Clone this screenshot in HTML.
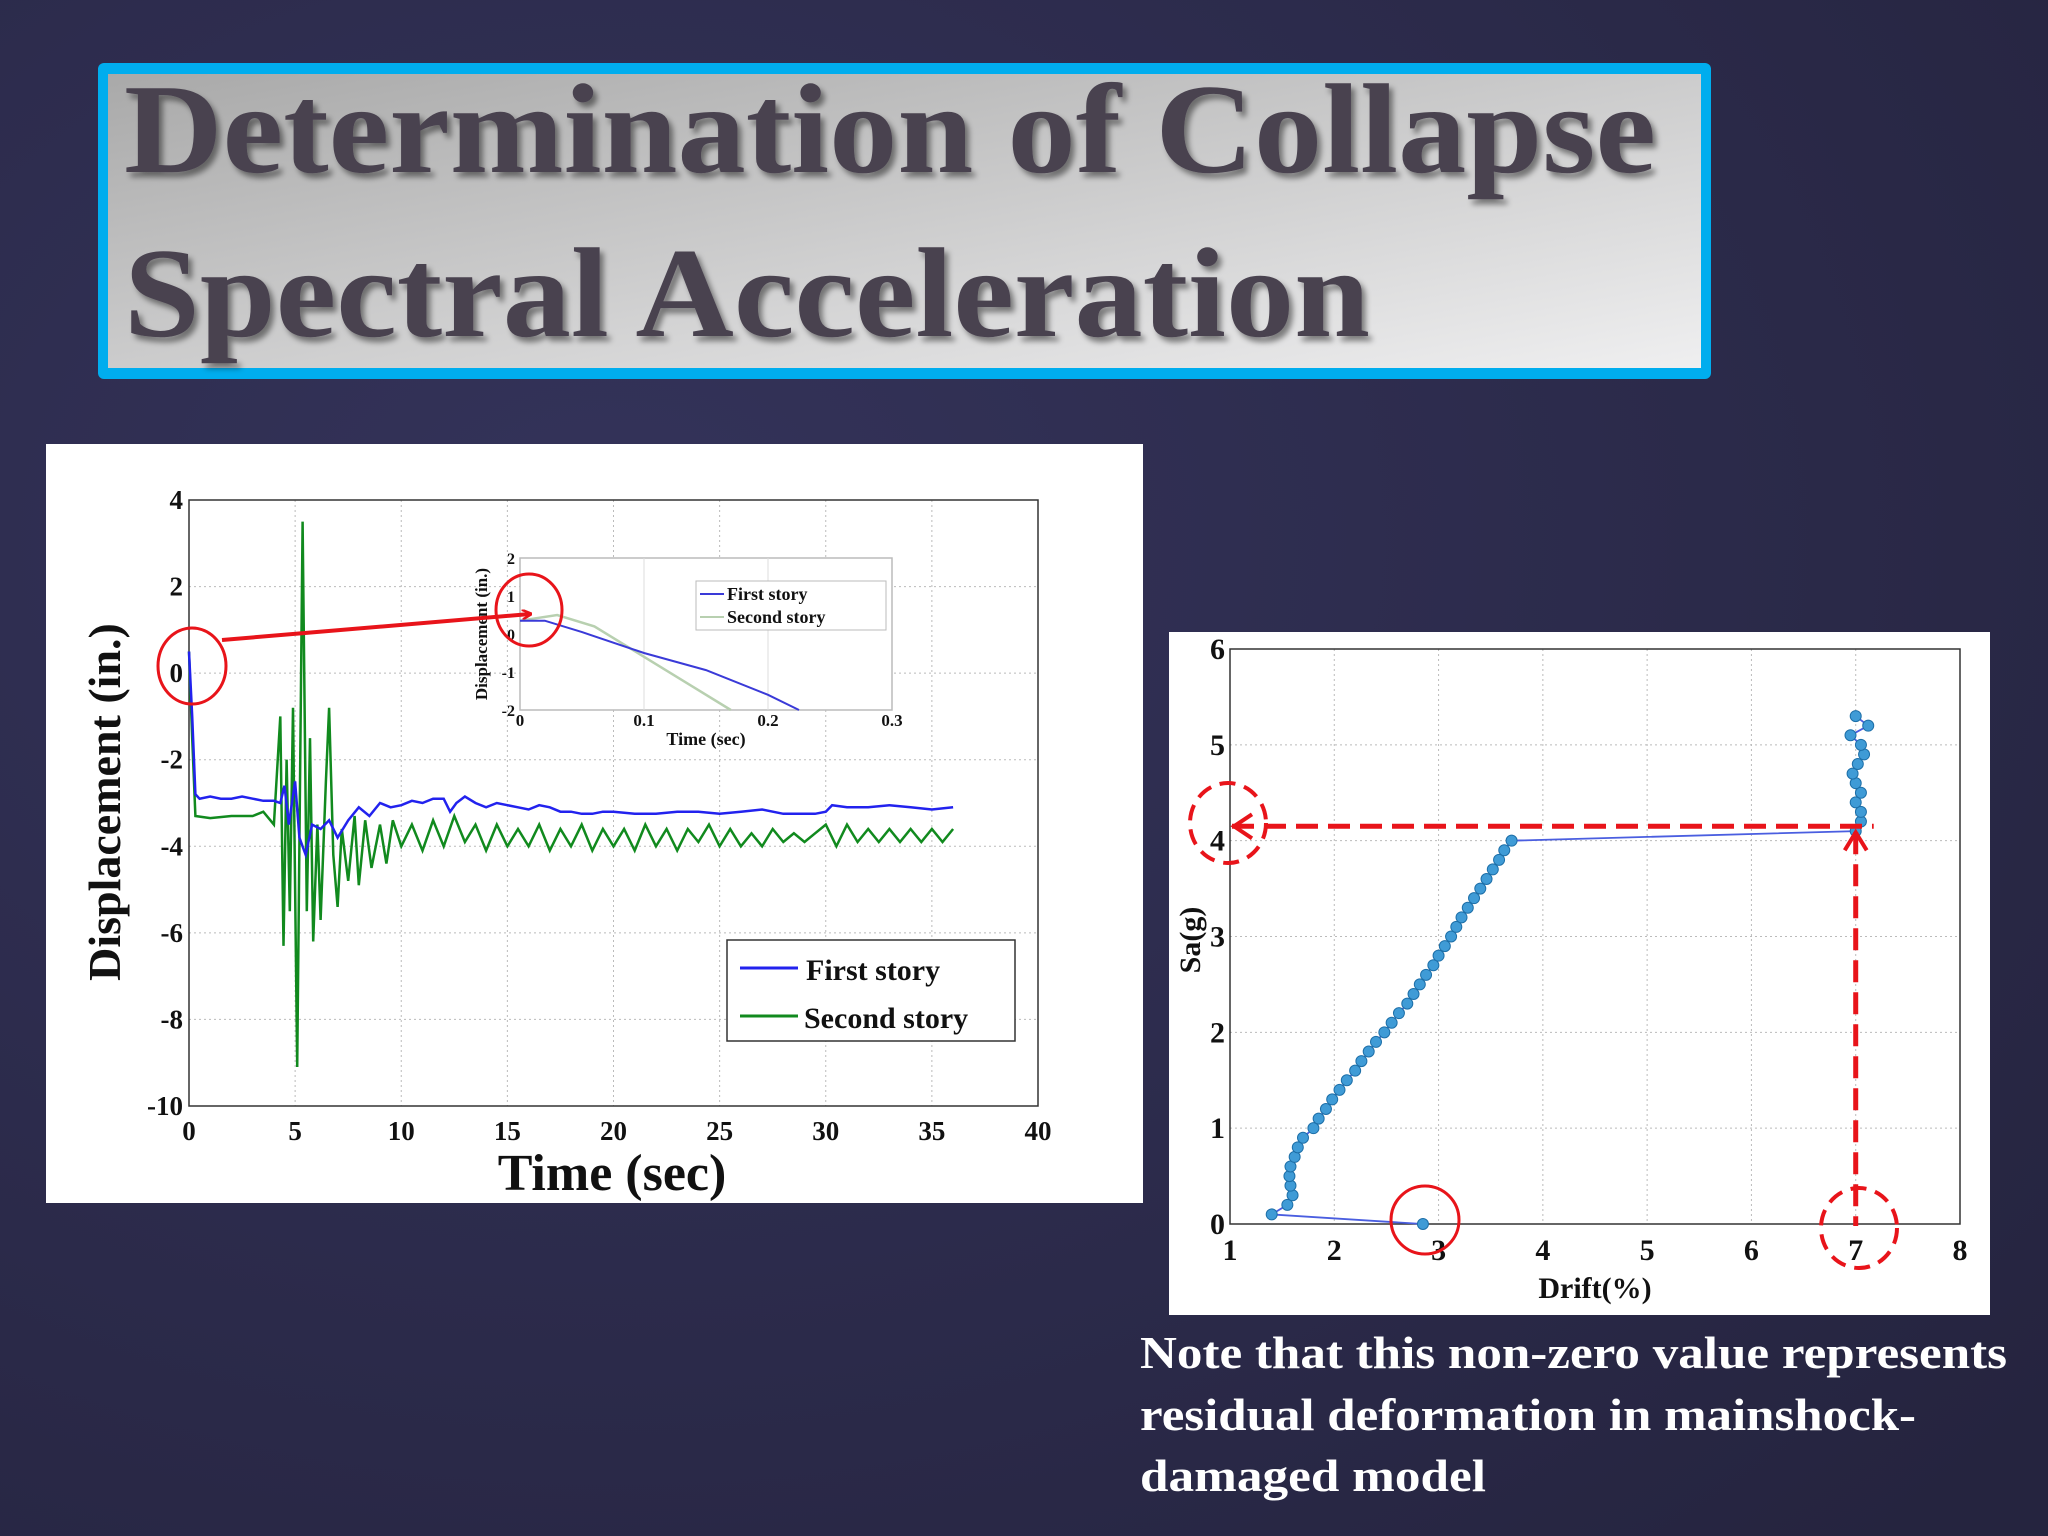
<!DOCTYPE html>
<html><head><meta charset="utf-8"><style>
html,body{margin:0;padding:0;background:#2c2b4c;}
svg{display:block;}
text{font-family:"Liberation Serif",serif;font-weight:bold;}
</style></head><body>
<svg id="root" width="2048" height="1536" viewBox="0 0 2048 1536">
<defs>
<radialGradient id="bg" cx="0.3" cy="0.35" r="0.9"><stop offset="0" stop-color="#34335a"/><stop offset="1" stop-color="#25243f"/></radialGradient>
<linearGradient id="tg" x1="0" y1="0" x2="1" y2="1"><stop offset="0" stop-color="#a9a9a9"/><stop offset="1" stop-color="#efeff0"/></linearGradient>
<filter id="sh" x="-5%" y="-5%" width="110%" height="120%"><feDropShadow dx="4" dy="5" stdDeviation="3" flood-color="#000" flood-opacity="0.45"/></filter>
<marker id="arr" markerWidth="10" markerHeight="10" refX="8" refY="5" orient="auto" markerUnits="userSpaceOnUse"><path d="M0,0 L10,5 L0,10" fill="none" stroke="#e8141a" stroke-width="2.5"/></marker>
</defs>
<rect width="2048" height="1536" fill="url(#bg)"/>
<g>
<rect x="98" y="63" width="1613" height="316" rx="6" fill="#00adee"/>
<rect x="108" y="74" width="1593" height="294" fill="url(#tg)"/>
<text x="124" y="172" font-size="128" fill="#4a4350" filter="url(#sh)" textLength="1532" lengthAdjust="spacingAndGlyphs">Determination of Collapse</text>
<text x="124" y="336" font-size="128" fill="#4a4350" filter="url(#sh)" textLength="1246" lengthAdjust="spacingAndGlyphs">Spectral Acceleration</text>
</g>
<g id="left"></g>
<g id="right"></g>
<g fill="#fff" font-size="46">
<text x="1140" y="1368" textLength="867" lengthAdjust="spacingAndGlyphs">Note that this non-zero value represents</text>
<text x="1140" y="1430" textLength="776" lengthAdjust="spacingAndGlyphs">residual deformation in mainshock-</text>
<text x="1140" y="1491" textLength="346" lengthAdjust="spacingAndGlyphs">damaged model</text>
</g>
</svg>
<script>
// ---- left chart data ----
const xTicksL=[0,5,10,15,20,25,30,35,40];
const yTicksL=[4,2,0,-2,-4,-6,-8,-10];
const timeA=[0,0.15,0.3,0.5,1,1.5,2,2.5,3,3.5,4,4.3,4.5,4.7,5,5.2,5.5,5.8,6.2,6.6,7,7.5,8,8.5,9,9.5,10,10.5,11,11.5,12,12.3,12.6,13,13.5,14,14.5,15,15.5,16,16.5,17,17.5,18,18.5,19,19.5,20,21,22,23,24,25,26,27,28,29,29.5,30,30.3,31,32,33,34,35,36];
const firstStory=[0.5,-1,-2.8,-2.9,-2.85,-2.9,-2.9,-2.85,-2.9,-2.95,-2.95,-3.0,-2.6,-3.5,-2.5,-3.8,-4.2,-3.5,-3.6,-3.4,-3.8,-3.4,-3.1,-3.3,-3.0,-3.1,-3.05,-2.95,-3.0,-2.9,-2.9,-3.2,-3.0,-2.85,-3.0,-3.1,-3.0,-3.05,-3.1,-3.15,-3.05,-3.1,-3.2,-3.2,-3.25,-3.25,-3.2,-3.2,-3.25,-3.25,-3.2,-3.2,-3.25,-3.2,-3.15,-3.25,-3.25,-3.25,-3.2,-3.05,-3.1,-3.1,-3.05,-3.1,-3.15,-3.1];
const timeB=[0,0.15,0.3,1,2,3,3.5,4,4.3,4.45,4.6,4.75,4.9,5.1,5.35,5.55,5.7,5.85,6.05,6.2,6.45,6.6,6.8,7,7.2,7.5,7.8,8,8.3,8.6,9,9.3,9.6,10,10.5,11,11.5,12,12.5,13,13.5,14,14.5,15,15.5,16,16.5,17,17.5,18,18.5,19,19.5,20,20.5,21,21.5,22,22.5,23,23.5,24,24.5,25,25.5,26,26.5,27,27.5,28,28.5,29,29.5,30,30.5,31,31.5,32,32.5,33,33.5,34,34.5,35,35.5,36];
const secondStory=[0.5,-1.5,-3.3,-3.35,-3.3,-3.3,-3.2,-3.5,-1.0,-6.3,-2,-5.5,-0.8,-9.1,3.5,-5.5,-1.5,-6.2,-3.5,-5.7,-2.5,-0.8,-4.2,-5.4,-3.6,-4.8,-3.3,-4.9,-3.4,-4.5,-3.5,-4.4,-3.4,-4.0,-3.5,-4.1,-3.4,-4.0,-3.3,-3.9,-3.5,-4.1,-3.5,-4.0,-3.6,-4.0,-3.5,-4.1,-3.6,-4.0,-3.5,-4.1,-3.6,-4.0,-3.6,-4.1,-3.5,-4.0,-3.6,-4.1,-3.6,-3.9,-3.5,-4.0,-3.6,-4.0,-3.7,-4.0,-3.6,-3.9,-3.7,-3.9,-3.7,-3.5,-4.0,-3.5,-3.9,-3.6,-3.9,-3.6,-3.9,-3.6,-3.9,-3.6,-3.9,-3.6];
const insetT1=[0,0.02,0.05,0.1,0.15,0.2,0.225];
const insetFirst=[0.35,0.35,0.05,-0.5,-0.95,-1.6,-2];
const insetT2=[0,0.03,0.06,0.1,0.14,0.17];
const insetSecond=[0.35,0.5,0.2,-0.6,-1.4,-2];
const insetXTicks=[0,0.1,0.2,0.3];
const insetYTicks=[2,1,0,-1,-2];
// ---- right chart data ----
const xTicksR=[1,2,3,4,5,6,7,8];
const yTicksR=[0,1,2,3,4,5,6];
const drift=[2.85,1.4,1.55,1.6,1.58,1.57,1.58,1.62,1.65,1.7,1.8,1.85,1.92,1.98,2.05,2.12,2.2,2.26,2.33,2.4,2.48,2.55,2.62,2.7,2.76,2.82,2.88,2.95,3.0,3.06,3.12,3.17,3.22,3.28,3.34,3.4,3.46,3.52,3.58,3.63,3.7,7.0,7.05,7.05,7.0,7.05,7.0,6.97,7.02,7.08,7.05,6.95,7.12,7.0];
const sa=[0,0.1,0.2,0.3,0.4,0.5,0.6,0.7,0.8,0.9,1.0,1.1,1.2,1.3,1.4,1.5,1.6,1.7,1.8,1.9,2.0,2.1,2.2,2.3,2.4,2.5,2.6,2.7,2.8,2.9,3.0,3.1,3.2,3.3,3.4,3.5,3.6,3.7,3.8,3.9,4.0,4.1,4.2,4.3,4.4,4.5,4.6,4.7,4.8,4.9,5.0,5.1,5.2,5.3];
const collapseSa=[4.15];
const collapseDrift=[7];

const NS='http://www.w3.org/2000/svg';
function mk(p,tag,a,txt){const e=document.createElementNS(NS,tag);for(const k in a)e.setAttribute(k,a[k]);if(txt!==undefined)e.textContent=txt;p.appendChild(e);return e;}
function lin(d0,d1,r0,r1){return v=>r0+(v-d0)*(r1-r0)/(d1-d0);}
function pts(xs,ys,fx,fy){return xs.map((x,i)=>fx(x).toFixed(1)+','+fy(ys[i]).toFixed(1)).join(' ');}

// LEFT
const L=document.getElementById('left');
let e=mk(L,'rect',{x:46,y:444,width:1097,height:759,fill:'#fff'});

const xL=lin(0,40,189,1038), yL=lin(4,-10,500,1106);
xTicksL.forEach(t=>{
  if(t>0&&t<40){e=mk(L,'line',{x1:xL(t),x2:xL(t),y1:500,y2:1106,stroke:'#bbb','stroke-dasharray':'2,3'});}
  e=mk(L,'text',{x:xL(t),y:1140,'font-size':27,'text-anchor':'middle',fill:'#111'},String(t));
  
});
yTicksL.forEach(t=>{
  if(t<4&&t>-10){e=mk(L,'line',{x1:189,x2:1038,y1:yL(t),y2:yL(t),stroke:'#bbb','stroke-dasharray':'2,3'});}
  e=mk(L,'text',{x:183,y:yL(t)+9,'font-size':27,'text-anchor':'end',fill:'#111'},String(t));
  
});
e=mk(L,'rect',{x:189,y:500,width:849,height:606,fill:'none',stroke:'#333','stroke-width':1.5});

e=mk(L,'polyline',{points:pts(timeB,secondStory,xL,yL),fill:'none',stroke:'#118a1e','stroke-width':2.5});

e=mk(L,'polyline',{points:pts(timeA,firstStory,xL,yL),fill:'none',stroke:'#2222ee','stroke-width':2.5});

e=mk(L,'text',{x:0,y:0,'font-size':46,'text-anchor':'middle',fill:'#111',transform:'translate(120,802) rotate(-90)'},'Displacement (in.)');

e=mk(L,'text',{x:612,y:1190,'font-size':52,'text-anchor':'middle',fill:'#111'},'Time (sec)');

// legend
e=mk(L,'rect',{x:727,y:940,width:288,height:101,fill:'#fff',stroke:'#333','stroke-width':1.5});

mk(L,'line',{x1:740,x2:798,y1:968,y2:968,stroke:'#2222ee','stroke-width':3});
e=mk(L,'text',{x:806,y:980,'font-size':30,fill:'#111'},'First story');

mk(L,'line',{x1:740,x2:798,y1:1016,y2:1016,stroke:'#118a1e','stroke-width':3});
e=mk(L,'text',{x:804,y:1028,'font-size':30,fill:'#111'},'Second story');

// inset
const xI=lin(0,0.3,520,892), yI=lin(2,-2,558,710);
const IG=mk(L,'g',{});

mk(IG,'rect',{x:520,y:558,width:372,height:152,fill:'#fff',stroke:'#bbb','stroke-width':1.5});
insetXTicks.forEach(t=>{
  if(t>0&&t<0.3)mk(IG,'line',{x1:xI(t),x2:xI(t),y1:558,y2:710,stroke:'#ddd'});
  e=mk(IG,'text',{x:xI(t),y:726,'font-size':17,'text-anchor':'middle',fill:'#111'},String(t));
  
});
insetYTicks.forEach(t=>{
  e=mk(IG,'text',{x:515,y:yI(t)+6,'font-size':16,'text-anchor':'end',fill:'#111'},String(t));
  
});
e=mk(IG,'polyline',{points:pts(insetT2,insetSecond,xI,yI),fill:'none',stroke:'#b8d0b0','stroke-width':2.5});

e=mk(IG,'polyline',{points:pts(insetT1,insetFirst,xI,yI),fill:'none',stroke:'#3a3ad8','stroke-width':2});

mk(IG,'text',{x:0,y:0,'font-size':17,'text-anchor':'middle',fill:'#111',transform:'translate(487,634) rotate(-90)'},'Displacement (in.)');
mk(IG,'text',{x:706,y:745,'font-size':18,'text-anchor':'middle',fill:'#111'},'Time (sec)');
mk(IG,'rect',{x:696,y:581,width:190,height:49,fill:'#fff',stroke:'#bbb'});
mk(IG,'line',{x1:700,x2:724,y1:594,y2:594,stroke:'#3a3ad8','stroke-width':2});
mk(IG,'text',{x:727,y:600,'font-size':18,fill:'#111'},'First story');
mk(IG,'line',{x1:700,x2:724,y1:617,y2:617,stroke:'#b8d0b0','stroke-width':2});
mk(IG,'text',{x:727,y:623,'font-size':18,fill:'#111'},'Second story');
// annotations
e=mk(L,'ellipse',{cx:192,cy:666,rx:34,ry:38,fill:'none',stroke:'#e8141a','stroke-width':3});

e=mk(L,'ellipse',{cx:529,cy:610,rx:33,ry:36,fill:'none',stroke:'#e8141a','stroke-width':3});

e=mk(L,'line',{x1:222,y1:640,x2:530,y2:614,stroke:'#e8141a','stroke-width':4,'marker-end':'url(#arr)'});


// RIGHT
const R=document.getElementById('right');
e=mk(R,'rect',{x:1169,y:632,width:821,height:683,fill:'#fff'});

const xR=lin(1,8,1230,1960), yR=lin(0,6,1224,649);
xTicksR.forEach(t=>{
  if(t>1&&t<8){e=mk(R,'line',{x1:xR(t),x2:xR(t),y1:649,y2:1224,stroke:'#bbb','stroke-dasharray':'2,3'});}
  e=mk(R,'text',{x:xR(t),y:1260,'font-size':30,'text-anchor':'middle',fill:'#111'},String(t));
  
});
yTicksR.forEach(t=>{
  if(t>0&&t<6){e=mk(R,'line',{x1:1230,x2:1960,y1:yR(t),y2:yR(t),stroke:'#bbb','stroke-dasharray':'2,3'});}
  e=mk(R,'text',{x:1225,y:yR(t)+10,'font-size':30,'text-anchor':'end',fill:'#111'},String(t));
  
});
e=mk(R,'rect',{x:1230,y:649,width:730,height:575,fill:'none',stroke:'#333','stroke-width':1.5});

e=mk(R,'polyline',{points:pts(drift,sa,xR,yR),fill:'none',stroke:'#4a5ee0','stroke-width':1.8});

drift.forEach((d,i)=>{
  e=mk(R,'circle',{cx:xR(d),cy:yR(sa[i]),r:5.5,fill:'#3f9bd6',stroke:'#1d6fa8','stroke-width':1});
  
});
e=mk(R,'text',{x:0,y:0,'font-size':30,'text-anchor':'middle',fill:'#111',transform:'translate(1200,940) rotate(-90)'},'Sa(g)');

e=mk(R,'text',{x:1595,y:1298,'font-size':30,'text-anchor':'middle',fill:'#111'},'Drift(%)');

const cy=yR(collapseSa[0]), cx=xR(collapseDrift[0]);
e=mk(R,'line',{x1:1232,y1:cy,x2:cx+18,y2:cy,stroke:'#e8141a','stroke-width':5,'stroke-dasharray':'22,10'});

mk(R,'path',{d:`M${1252},${cy-12} L1234,${cy} L1252,${cy+12}`,fill:'none',stroke:'#e8141a','stroke-width':4});
e=mk(R,'line',{x1:cx,y1:cy+6,x2:cx,y2:1226,stroke:'#e8141a','stroke-width':5,'stroke-dasharray':'22,10'});

mk(R,'path',{d:`M${cx-11},${cy+24} L${cx},${cy+6} L${cx+11},${cy+24}`,fill:'none',stroke:'#e8141a','stroke-width':4});
e=mk(R,'ellipse',{cx:1228,cy:823,rx:38,ry:40,fill:'none',stroke:'#e8141a','stroke-width':4,'stroke-dasharray':'16,9'});

e=mk(R,'ellipse',{cx:1859,cy:1228,rx:38,ry:40,fill:'none',stroke:'#e8141a','stroke-width':4,'stroke-dasharray':'16,9'});

e=mk(R,'ellipse',{cx:1425,cy:1220,rx:34,ry:34,fill:'none',stroke:'#e8141a','stroke-width':3});

</script>
</body></html>
